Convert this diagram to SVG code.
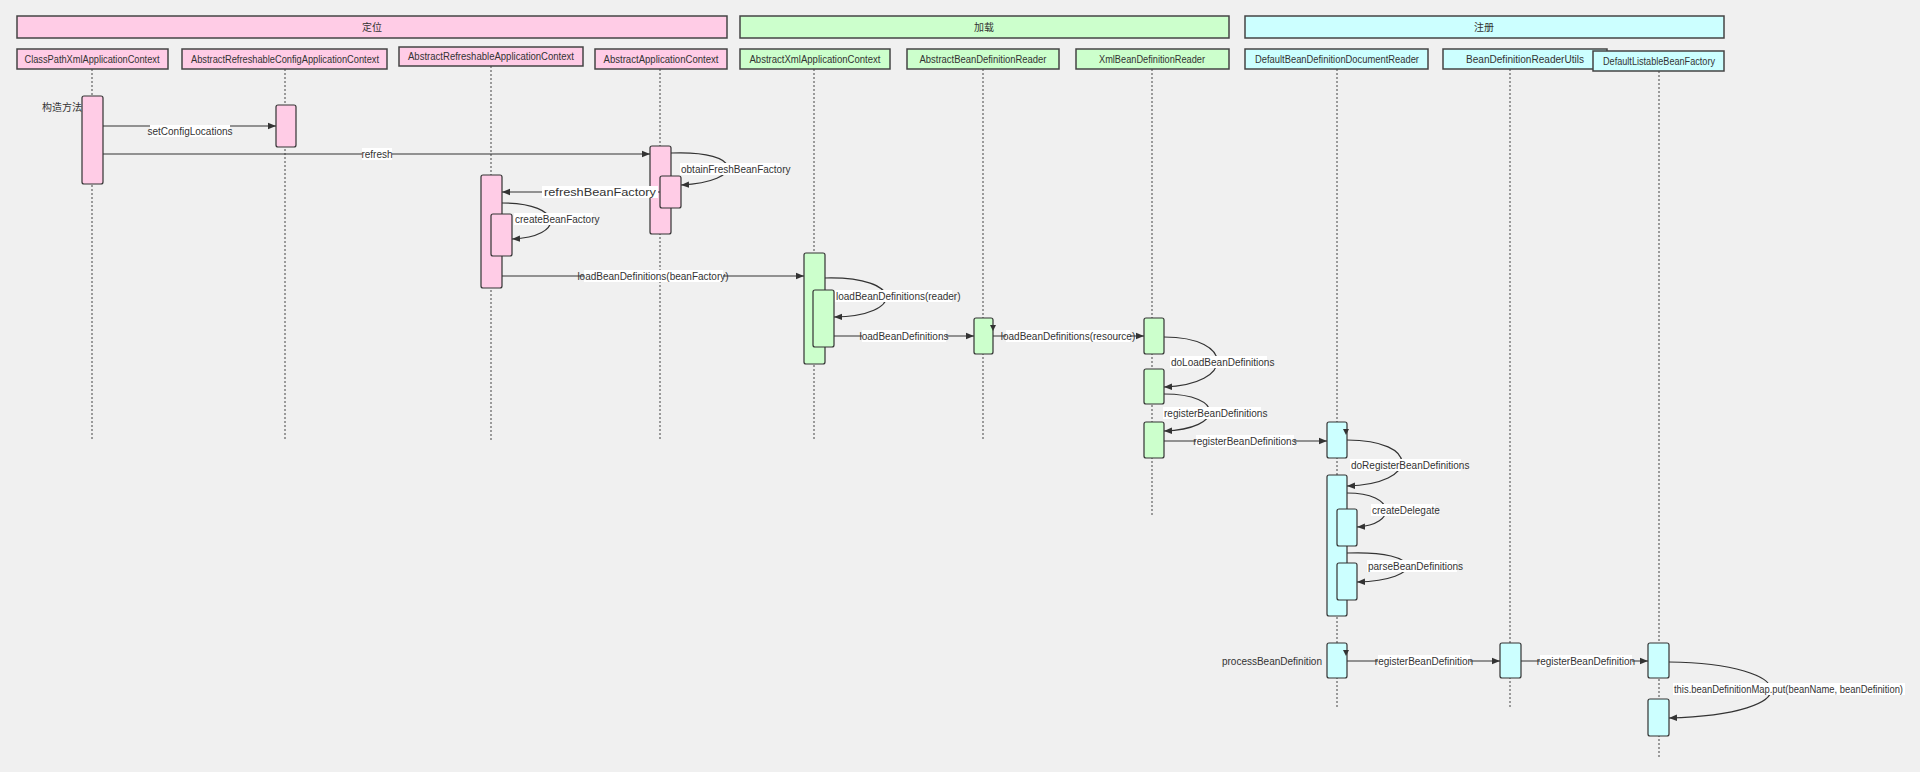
<svg xmlns="http://www.w3.org/2000/svg" width="1920" height="772" viewBox="0 0 1920 772">
<style>
text{font-family:"Liberation Sans",Arial,sans-serif;font-size:10px;fill:#333}
.p{fill:#ffcce6}.g{fill:#ccffcc}.c{fill:#ccffff}
.hd{stroke:#444;stroke-width:1.5}
.act{stroke:#333;stroke-width:1.2}
.life{stroke:#444;stroke-width:1;stroke-dasharray:2,2;fill:none}
.msg{stroke:#333;stroke-width:1.2;fill:none;marker-end:url(#ah)}
.lb{fill:#fff}
.m{text-anchor:middle}
.cj{font-family:"Noto Sans CJK SC",sans-serif}
</style>
<defs><marker id="ah" viewBox="0 0 10 10" refX="10" refY="5" markerWidth="8" markerHeight="8" orient="auto" markerUnits="userSpaceOnUse"><path d="M0,1L10,5L0,9z" fill="#333"/></marker></defs>
<rect width="1920" height="772" fill="#f0f0f0"/>
<g id="groups">
<rect class="p hd" x="17" y="16" width="710" height="22"/><text class="m cj" x="372" y="31">定位</text>
<rect class="g hd" x="740" y="16" width="489" height="22"/><text class="m cj" x="984" y="31">加载</text>
<rect class="c hd" x="1245" y="16" width="479" height="22"/><text class="m cj" x="1484" y="31">注册</text>
</g>
<g id="lifelines">
<line class="life" x1="92" y1="69" x2="92" y2="441"/>
<line class="life" x1="285" y1="69" x2="285" y2="441"/>
<line class="life" x1="491" y1="66" x2="491" y2="441"/>
<line class="life" x1="660" y1="69" x2="660" y2="441"/>
<line class="life" x1="814" y1="69" x2="814" y2="441"/>
<line class="life" x1="983" y1="69" x2="983" y2="441"/>
<line class="life" x1="1152" y1="69" x2="1152" y2="515"/>
<line class="life" x1="1337" y1="69" x2="1337" y2="708"/>
<line class="life" x1="1510" y1="69" x2="1510" y2="708"/>
<line class="life" x1="1659" y1="71" x2="1659" y2="757"/>
</g>
<g id="n1"><rect class="p hd" x="17" y="49" width="151" height="20"/><text class="m" x="92" y="63" textLength="135" lengthAdjust="spacingAndGlyphs">ClassPathXmlApplicationContext</text></g>
<g id="n2"><rect class="p hd" x="182" y="49" width="205" height="20"/><text class="m" x="285" y="63" textLength="188" lengthAdjust="spacingAndGlyphs">AbstractRefreshableConfigApplicationContext</text></g>
<g id="n3"><rect class="p hd" x="399" y="47" width="184" height="19"/><text class="m" x="491" y="60" textLength="166" lengthAdjust="spacingAndGlyphs">AbstractRefreshableApplicationContext</text></g>
<g id="n4"><rect class="p hd" x="595" y="49" width="132" height="20"/><text class="m" x="661" y="63" textLength="115" lengthAdjust="spacingAndGlyphs">AbstractApplicationContext</text></g>
<g id="n5"><rect class="g hd" x="740" y="49" width="150" height="20"/><text class="m" x="815" y="63" textLength="131" lengthAdjust="spacingAndGlyphs">AbstractXmlApplicationContext</text></g>
<g id="n6"><rect class="g hd" x="907" y="49" width="152" height="20"/><text class="m" x="983" y="63" textLength="127" lengthAdjust="spacingAndGlyphs">AbstractBeanDefinitionReader</text></g>
<g id="n7"><rect class="g hd" x="1076" y="49" width="153" height="20"/><text class="m" x="1152" y="63" textLength="106" lengthAdjust="spacingAndGlyphs">XmlBeanDefinitionReader</text></g>
<g id="n8"><rect class="c hd" x="1245" y="49" width="183" height="20"/><text class="m" x="1337" y="63" textLength="164" lengthAdjust="spacingAndGlyphs">DefaultBeanDefinitionDocumentReader</text></g>
<g id="n9"><rect class="c hd" x="1443" y="49" width="164" height="20"/><text class="m" x="1525" y="63" textLength="118" lengthAdjust="spacingAndGlyphs">BeanDefinitionReaderUtils</text></g>
<g id="n10"><rect class="c hd" x="1593" y="51" width="131" height="20"/><text class="m" x="1659" y="65" textLength="112" lengthAdjust="spacingAndGlyphs">DefaultListableBeanFactory</text></g>
<g id="activations">
<rect class="p act" x="82" y="96" width="21" height="88" rx="2"/>
<rect class="p act" x="276" y="105" width="20" height="42" rx="2"/>
<rect class="p act" x="650" y="146" width="21" height="88" rx="2"/>
<rect class="p act" x="660" y="176" width="21" height="32" rx="2"/>
<rect class="p act" x="481" y="175" width="21" height="113" rx="2"/>
<rect class="p act" x="491" y="214" width="21" height="42" rx="2"/>
<rect class="g act" x="804" y="253" width="21" height="111" rx="2"/>
<rect class="g act" x="813" y="290" width="21" height="57" rx="2"/>
<rect class="g act" x="974" y="318" width="19" height="36" rx="2"/>
<rect class="g act" x="1144" y="318" width="20" height="36" rx="2"/>
<rect class="g act" x="1144" y="369" width="20" height="35" rx="2"/>
<rect class="g act" x="1144" y="422" width="20" height="36" rx="2"/>
<rect class="c act" x="1327" y="422" width="20" height="36" rx="2"/>
<rect class="c act" x="1327" y="475" width="20" height="141" rx="2"/>
<rect class="c act" x="1337" y="509" width="20" height="37" rx="2"/>
<rect class="c act" x="1337" y="563" width="20" height="37" rx="2"/>
<rect class="c act" x="1327" y="643" width="20" height="35" rx="2"/>
<rect class="c act" x="1500" y="643" width="21" height="35" rx="2"/>
<rect class="c act" x="1648" y="643" width="21" height="35" rx="2"/>
<rect class="c act" x="1648" y="699" width="21" height="37" rx="2"/>
</g>
<text class="cj" x="42" y="111" font-size="9">构造方法</text>
<text x="1322" y="665" text-anchor="end">processBeanDefinition</text>
<g id="connectors">
<path class="msg" d="M103,126H276"/>
<rect class="lb" x="150" y="125" width="80" height="12"/><text class="m" x="190" y="135">setConfigLocations</text>
<path class="msg" d="M103,154H650"/>
<rect class="lb" x="362" y="148" width="30" height="12"/><text class="m" x="377" y="158">refresh</text>
<path class="msg" d="M671,153C745,150 745,182 681,185"/>
<rect class="lb" x="680" y="163" width="100" height="12"/><text x="681" y="173">obtainFreshBeanFactory</text>
<path class="msg" d="M660,192H502"/>
<rect class="lb" x="542" y="186" width="116" height="12"/><text class="m" x="600" y="196" textLength="112" lengthAdjust="spacingAndGlyphs">refreshBeanFactory</text>
<path class="msg" d="M502,203C565,203 565,237 512,239"/>
<rect class="lb" x="514" y="213" width="79" height="12"/><text x="515" y="223">createBeanFactory</text>
<path class="msg" d="M502,276H804"/>
<rect class="lb" x="584" y="270" width="139" height="12"/><text class="m" x="653" y="280">loadBeanDefinitions(beanFactory)</text>
<path class="msg" d="M825,278C905,276 905,316 834,317"/>
<rect class="lb" x="835" y="290" width="117" height="12"/><text x="836" y="300">loadBeanDefinitions(reader)</text>
<path class="msg" d="M834,336H974"/>
<rect class="lb" x="862" y="330" width="84" height="12"/><text class="m" x="904" y="340">loadBeanDefinitions</text>
<path d="M990,325l3,6l3,-6z" fill="#333"/>
<path class="msg" d="M993,336H1144"/>
<rect class="lb" x="1006" y="330" width="124" height="12"/><text class="m" x="1068" y="340">loadBeanDefinitions(resource)</text>
<path class="msg" d="M1164,337C1235,337 1235,385 1164,387"/>
<rect class="lb" x="1170" y="356" width="97" height="12"/><text x="1171" y="366">doLoadBeanDefinitions</text>
<path class="msg" d="M1164,394C1225,394 1225,429 1164,431"/>
<rect class="lb" x="1163" y="407" width="98" height="12"/><text x="1164" y="417">registerBeanDefinitions</text>
<path class="msg" d="M1164,441H1327"/>
<rect class="lb" x="1196" y="435" width="98" height="12"/><text class="m" x="1245" y="445">registerBeanDefinitions</text>
<path d="M1343,429l3,6l3,-6z" fill="#333"/>
<path class="msg" d="M1347,440C1420,440 1420,484 1347,486"/>
<rect class="lb" x="1350" y="459" width="111" height="12"/><text x="1351" y="469">doRegisterBeanDefinitions</text>
<path class="msg" d="M1347,493C1397,493 1397,525 1357,527"/>
<rect class="lb" x="1371" y="504" width="64" height="12"/><text x="1372" y="514">createDelegate</text>
<path class="msg" d="M1347,553C1425,550 1425,580 1357,582"/>
<rect class="lb" x="1367" y="560" width="90" height="12"/><text x="1368" y="570">parseBeanDefinitions</text>
<path class="msg" d="M1347,661H1500"/>
<path d="M1343,650l3,6l3,-6z" fill="#333"/>
<rect class="lb" x="1378" y="655" width="92" height="12"/><text class="m" x="1424" y="665">registerBeanDefinition</text>
<path class="msg" d="M1521,661H1648"/>
<rect class="lb" x="1540" y="655" width="92" height="12"/><text class="m" x="1586" y="665">registerBeanDefinition</text>
<path class="msg" d="M1669,662C1800,664 1810,714 1669,718"/>
<rect class="lb" x="1673" y="683" width="232" height="12"/><text x="1674" y="693" textLength="229" lengthAdjust="spacingAndGlyphs">this.beanDefinitionMap.put(beanName, beanDefinition)</text>
</g>
</svg>
